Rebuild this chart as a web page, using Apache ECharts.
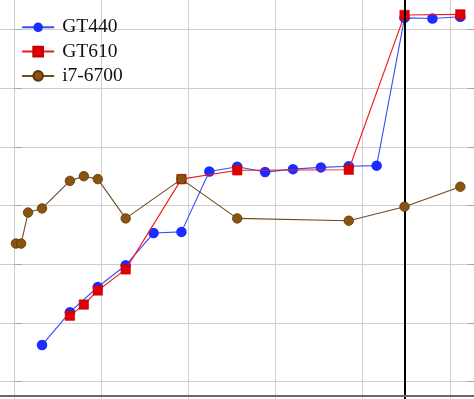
<!DOCTYPE html>
<html><head><meta charset="utf-8">
<script src="https://cdn.jsdelivr.net/npm/echarts@6/dist/echarts.min.js"></script>
<style>html,body{margin:0;padding:0;background:#fff;overflow:hidden;width:474px;height:399px;position:relative}
#c{position:absolute;left:-73.14px;top:-29.34px;width:609.98px;height:468.96px}</style>
</head><body><div id="c"></div>
<script>
const seriesNames = ['GT440', 'GT610', 'i7-6700'];
const gt440X = [8, 16, 24, 32, 40, 48, 56, 64, 72, 80, 88, 96, 104, 112, 120, 128];
const gt440Y = [0.62, 1.18, 1.61, 1.98, 2.53, 2.55, 3.58, 3.66, 3.57, 3.62, 3.65, 3.67, 3.68, 6.20, 6.19, 6.22];
const gt610X = [16, 20, 24, 32, 48, 64, 96, 112, 128];
const gt610Y = [1.12, 1.31, 1.55, 1.91, 3.45, 3.60, 3.61, 6.25, 6.26];
const i7X = [0.5, 2, 4, 8, 16, 20, 24, 32, 48, 64, 96, 112, 128];
const i7Y = [2.35, 2.35, 2.88, 2.95, 3.42, 3.50, 3.45, 2.78, 3.45, 2.78, 2.74, 2.98, 3.32];
const markerX = 112;
const baselineY = -0.24;

const pairs = (xs, ys) => xs.map((x, i) => [x, ys[i]]);
const chart = echarts.init(document.getElementById('c'), null, {renderer: 'canvas'});
const gridColor = '#cfcfcf';
chart.setOption({
  animation: false,
  backgroundColor: '#fff',
  grid: {left: 0, right: 0, top: 0, bottom: 0, containLabel: false},
  xAxis: {
    type: 'value', min: -25, max: 150, interval: 25,
    axisLine: {show: false}, axisTick: {show: false}, axisLabel: {show: false},
    splitLine: {show: true, lineStyle: {color: gridColor, width: 1}}
  },
  yAxis: [{
    type: 'value', min: -1, max: 7, interval: 1, position: 'left', offset: -73.14,
    axisLine: {show: false}, axisLabel: {show: false},
    axisTick: {show: true, inside: true, length: 8, lineStyle: {color: '#a8a8a8'}},
    splitLine: {show: true, lineStyle: {color: gridColor, width: 1}}
  }, {
    type: 'value', min: -1, max: 7, interval: 1, position: 'right', offset: -62.84,
    axisLine: {show: false}, axisLabel: {show: false},
    axisTick: {show: true, inside: true, length: 7, lineStyle: {color: '#a8a8a8'}},
    splitLine: {show: false}
  }],
  legend: {
    orient: 'vertical', left: 94.14, top: 46.3, padding: 0, itemGap: 4.3,
    itemWidth: 32, itemHeight: 12,
    data: seriesNames,
    textStyle: {fontFamily: 'Liberation Serif', fontSize: 19.5, color: '#111', lineHeight: 20, padding: [0, 0, 0, 3]}
  },
  series: [{
    type: 'line', data: [], z: 1, silent: true,
    markLine: {
      symbol: 'none', silent: true, label: {show: false},
      data: [
        {xAxis: markerX, lineStyle: {color: '#000', width: 2, type: 'solid'}},
        {yAxis: baselineY, lineStyle: {color: '#6a6a6a', width: 2, type: 'solid'}}
      ]
    }
  }, {
    name: seriesNames[0], type: 'line', z: 3, data: pairs(gt440X, gt440Y),
    symbol: 'circle', symbolSize: 10.5,
    lineStyle: {color: '#3b4cf5', width: 1.1},
    itemStyle: {color: '#1a2cff', borderWidth: 0}
  }, {
    name: seriesNames[1], type: 'line', z: 4, data: pairs(gt610X, gt610Y),
    symbol: 'rect', symbolSize: 9.5,
    lineStyle: {color: '#ee1c1c', width: 1.1},
    itemStyle: {color: '#e00000', borderColor: '#c00000', borderWidth: 0.5}
  }, {
    name: seriesNames[2], type: 'line', z: 5, data: pairs(i7X, i7Y),
    symbol: 'circle', symbolSize: 9.5,
    lineStyle: {color: '#6e4b22', width: 1.1},
    itemStyle: {color: '#8a530f', borderColor: '#5a3608', borderWidth: 0.8}
  }]
});
</script></body></html>
